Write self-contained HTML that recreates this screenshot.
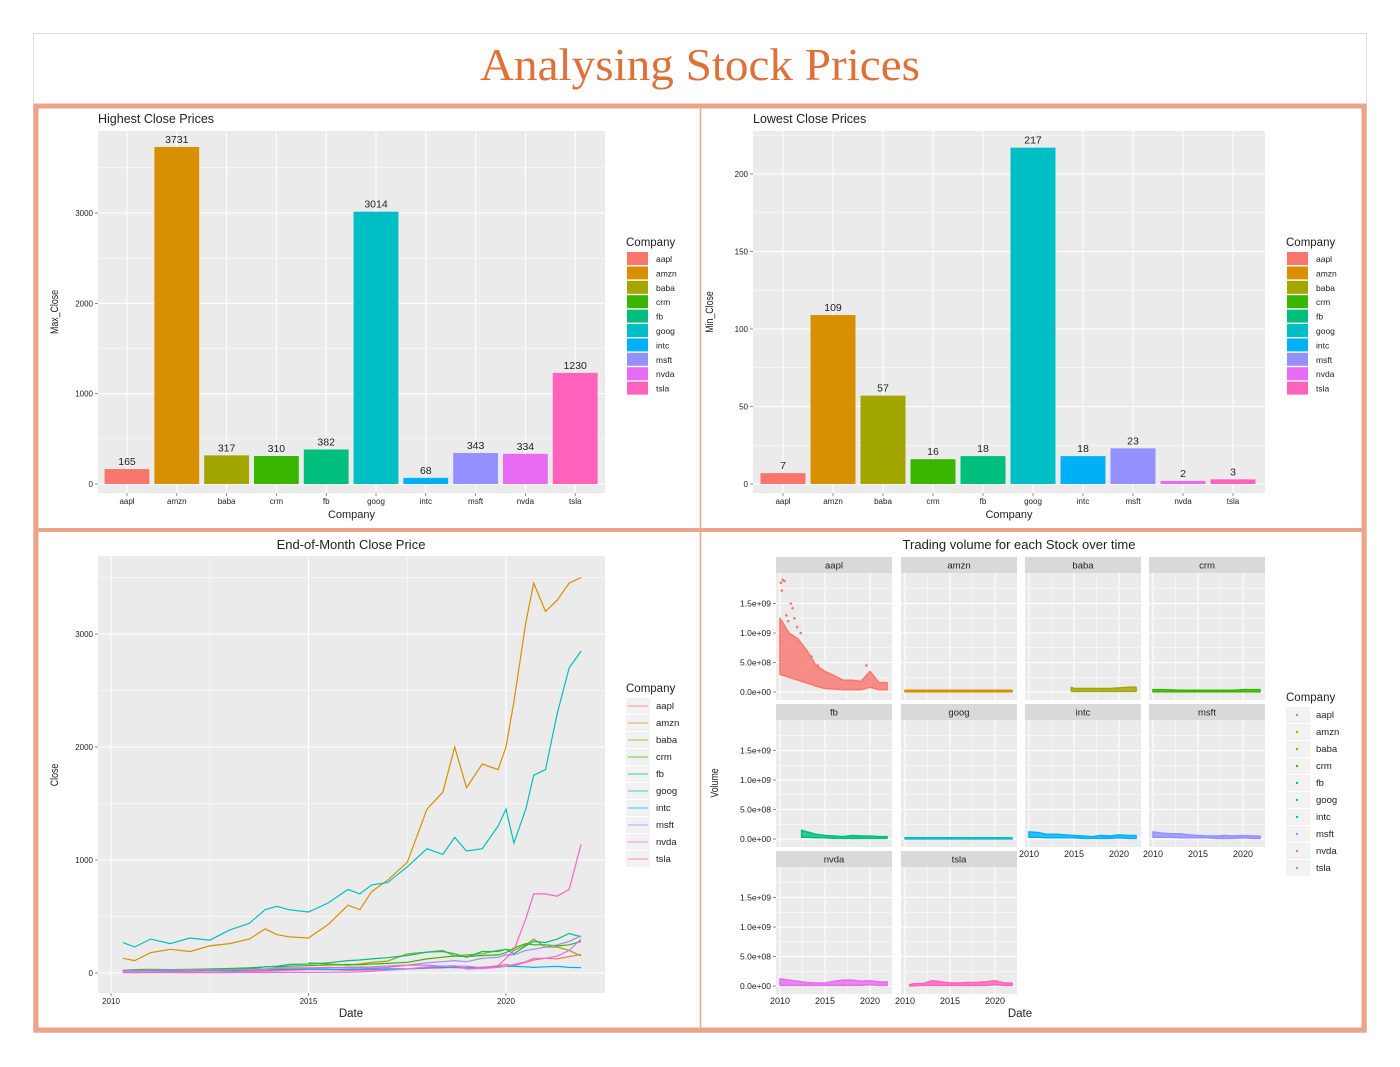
<!DOCTYPE html>
<html><head><meta charset="utf-8"><style>
html,body{margin:0;padding:0;background:#fff;width:1400px;height:1067px;overflow:hidden}
svg{display:block}
text{font-family:"Liberation Sans",sans-serif;fill:#222}
</style></head><body>
<svg id="s" width="1400" height="1067" viewBox="0 0 1400 1067">
<rect x="33.5" y="33.5" width="1333" height="999" fill="#fff" stroke="#ddd"/>
<text x="700" y="80" text-anchor="middle" textLength="440" lengthAdjust="spacingAndGlyphs" style="font-family:'Liberation Serif',serif;font-size:46px;fill:#E0703A">Analysing Stock Prices</text>
<rect x="36" y="106" width="1328" height="924" fill="none" stroke="#EBA58A" stroke-width="5"/>
<line x1="700.5" y1="108" x2="700.5" y2="1028" stroke="#EBA58A" stroke-width="1.5"/>
<line x1="38" y1="530" x2="1362" y2="530" stroke="#EBA58A" stroke-width="4"/>
<g id="g"></g>
</svg>
<script>
const companies=['aapl','amzn','baba','crm','fb','goog','intc','msft','nvda','tsla'];
const colors=['#F8766D','#D89000','#A3A500','#39B600','#00BF7D','#00BFC4','#00B0F6','#9590FF','#E76BF3','#FF62BC'];
const maxClose=[165,3731,317,310,382,3014,68,343,334,1230];
const minClose=[7,109,57,16,18,217,18,23,2,3];
const maxTicks=[0,1000,2000,3000];
const minTicks=[0,50,100,150,200];
const lineDates=[2010.3,2010.6,2011,2011.5,2012,2012.5,2013,2013.5,2013.9,2014.2,2014.5,2015,2015.5,2016,2016.3,2016.6,2017,2017.5,2018,2018.4,2018.7,2019,2019.4,2019.8,2020,2020.2,2020.5,2020.7,2021,2021.3,2021.6,2021.9];
const closeAapl=[9,9,11,12,15,20,16,14,18,20,24,30,31,24,25,27,30,36,42,45,55,39,50,65,77,63,95,115,130,125,145,165];
const closeAmzn=[130,110,180,210,190,240,260,300,390,340,320,310,430,600,560,720,820,980,1450,1600,2000,1640,1850,1800,2000,2400,3100,3450,3200,3300,3450,3500];
const closeBaba=[null,null,null,null,null,null,null,null,null,null,null,90,80,70,80,95,105,170,185,200,150,160,170,200,210,200,250,300,230,230,200,150];
const closeCrm=[25,30,32,30,33,35,40,45,55,55,60,65,72,75,73,80,85,95,125,140,150,145,155,160,180,220,260,250,250,240,250,280];
const closeFb=[null,null,null,null,null,22,28,35,55,60,75,80,90,110,115,125,135,155,185,190,170,140,190,190,210,170,240,280,270,300,350,320];
const closeGoog=[270,230,300,260,310,290,380,440,560,590,560,540,620,740,700,780,800,940,1100,1050,1200,1080,1100,1300,1450,1150,1450,1750,1800,2300,2700,2850];
const closeIntc=[20,20,22,22,26,25,22,24,25,30,33,35,31,32,32,35,36,36,46,50,48,47,50,55,60,58,55,50,55,58,50,48];
const closeMsft=[25,25,26,27,28,29,28,33,37,40,42,42,44,52,52,55,62,70,90,100,110,100,130,140,160,160,200,210,230,250,280,330];
const closeNvda=[4,3,5,4,3,3,3,4,4,5,5,5,6,8,10,15,25,35,55,60,65,35,40,50,60,75,100,130,130,150,200,300];
const closeTsla=[4,4,5,6,7,6,7,20,28,45,45,45,50,45,45,43,50,70,70,60,60,60,45,65,130,200,480,700,700,680,740,1140];
const closeSeries=[closeAapl,closeAmzn,closeBaba,closeCrm,closeFb,closeGoog,closeIntc,closeMsft,closeNvda,closeTsla];
const closeTicks=[0,1000,2000,3000];
const yearTicks=[2010,2015,2020];
const volYears=[2010,2011,2012,2013,2014,2015,2016,2017,2018,2019,2020,2021];
const volHigh=[
[1.25,1.0,0.9,0.7,0.45,0.35,0.28,0.2,0.2,0.18,0.35,0.16],
[0.03,0.03,0.03,0.03,0.03,0.03,0.03,0.03,0.03,0.03,0.03,0.03],
[null,null,null,null,0.08,0.06,0.06,0.06,0.06,0.06,0.07,0.08],
[0.04,0.04,0.035,0.03,0.03,0.03,0.03,0.03,0.03,0.03,0.04,0.04],
[null,null,0.15,0.12,0.08,0.06,0.05,0.04,0.06,0.05,0.05,0.04],
[0.02,0.02,0.02,0.02,0.02,0.02,0.02,0.02,0.02,0.02,0.02,0.02],
[0.12,0.11,0.08,0.08,0.07,0.06,0.05,0.04,0.06,0.05,0.07,0.06],
[0.12,0.1,0.09,0.09,0.07,0.06,0.05,0.05,0.06,0.05,0.06,0.05],
[0.12,0.1,0.08,0.06,0.05,0.05,0.08,0.1,0.1,0.08,0.09,0.07],
[0.02,0.04,0.04,0.09,0.07,0.05,0.05,0.06,0.06,0.07,0.09,0.05]];
const volLow=[
[0.3,0.25,0.2,0.15,0.1,0.06,0.05,0.04,0.04,0.04,0.08,0.04],
[0.005,0.005,0.005,0.005,0.005,0.005,0.005,0.005,0.005,0.005,0.005,0.005],
[null,null,null,null,0.01,0.01,0.01,0.01,0.01,0.01,0.01,0.01],
[0.005,0.005,0.005,0.005,0.005,0.005,0.005,0.005,0.005,0.005,0.005,0.005],
[null,null,0.03,0.03,0.02,0.02,0.01,0.01,0.01,0.01,0.01,0.01],
[0.002,0.002,0.002,0.002,0.002,0.002,0.002,0.002,0.002,0.002,0.002,0.002],
[0.03,0.03,0.02,0.02,0.02,0.02,0.01,0.01,0.01,0.01,0.02,0.01],
[0.03,0.03,0.03,0.02,0.02,0.02,0.02,0.01,0.01,0.01,0.02,0.01],
[0.01,0.01,0.01,0.01,0.01,0.01,0.01,0.01,0.01,0.01,0.02,0.01],
[0.002,0.005,0.01,0.01,0.01,0.01,0.01,0.01,0.01,0.01,0.02,0.01]];
const volStart=[2010,2010,2014.7,2010,2012.4,2010,2010,2010,2010,2010.5];
const aaplOutX=[2010.1,2010.3,2010.5,2010.2,2011.2,2011.4,2011.6,2010.7,2010.9,2012.3,2011.9,2013.5,2014.2,2019.6];
const aaplOutY=[1.85,1.9,1.88,1.72,1.5,1.42,1.25,1.3,1.2,1.0,1.1,0.6,0.45,0.45];
const volTicks=[0,0.5,1.0,1.5];
const volTickLabels=['0.0e+00','5.0e+08','1.0e+09','1.5e+09'];

const G=document.getElementById('g');
const NS='http://www.w3.org/2000/svg';
function el(tag,attrs,parent,txt){const e=document.createElementNS(NS,tag);for(const k in attrs)e.setAttribute(k,attrs[k]);if(txt!==undefined)e.textContent=txt;(parent||G).appendChild(e);return e;}

function barChart(opts){
  const {x0,x1,y0,y1,zeroY,scale,vals,ticks,title,ytitle,legX,xs,name}=opts;
  const g=el('g',{});
  
  
  const bg=el('rect',{x:x0,y:y0,width:x1-x0,height:y1-y0,fill:'#EBEBEB'},g);
  
  
  const Y=v=>zeroY-v*scale;
  for(let i=0;i<ticks.length;i++){
    const m=ticks[i]+(ticks[1]-ticks[0])/2;if(Y(m)>y0)el('line',{x1:x0,x2:x1,y1:Y(m),y2:Y(m),stroke:'#fff','stroke-width':0.5},g);
    el('line',{x1:x0,x2:x1,y1:Y(ticks[i]),y2:Y(ticks[i]),stroke:'#fff','stroke-width':1.1},g);
    const t=el('text',{x:x0-5,y:Y(ticks[i])+3,'text-anchor':'end','font-size':8,fill:'#444'},g,String(ticks[i]));
    
    
    el('line',{x1:x0-3,x2:x0,y1:Y(ticks[i]),y2:Y(ticks[i]),stroke:'#444','stroke-width':0.6},g);
  }
  const bw=(xs(1)-xs(0))*0.9;
  vals.forEach((v,i)=>{const cx=xs(i);el('line',{x1:cx,x2:cx,y1:y0,y2:y1,stroke:'#fff','stroke-width':1.1},g);});
  vals.forEach((v,i)=>{
    const cx=xs(i);
    const r=el('rect',{x:cx-bw/2,y:Y(v),width:bw,height:Math.max(zeroY-Y(v),1),fill:colors[i]},g);
    
    
    const l=el('text',{x:cx,y:Y(v)-4,'text-anchor':'middle','font-size':10.5,fill:'#111'},g,String(v));
    
    
    el('line',{x1:cx,x2:cx,y1:y1,y2:y1+3,stroke:'#444','stroke-width':0.6},g);
    const xl=el('text',{x:cx,y:y1+11,'text-anchor':'middle','font-size':8,fill:'#444'},g,companies[i]);
    
    
  });
  const tt=el('text',{x:x0,y:y0-8,'font-size':12.5},g,title);
  
  
  const xt=el('text',{x:(x0+x1)/2,y:y1+25,'text-anchor':'middle','font-size':11},g,'Company');
  
  
  const yt=el('text',{x:0,y:0,'text-anchor':'middle','font-size':11,transform:`translate(${x0-40},${(y0+y1)/2}) rotate(-90) scale(0.8,1)`},g,ytitle);
  
  
  legend(legX,242,'fill',g);
}
function legend(x,y,kind,parent){
  const g=el('g',{},parent);
  
  
  const t=el('text',{x:x,y:y+4,'font-size':11.5},g,'Company');
  
  
  const step=kind==='fill'?14.4:17;
  companies.forEach((c,i)=>{
    const yy=y+10+i*step;
    const e=el('g',{},g);
    
    
    if(kind==='fill'){el('rect',{x:x+1,y:yy,width:21,height:13,fill:colors[i]},e);el('text',{x:x+30,y:yy+10,'font-size':8.5},e,c);}
    else{el('rect',{x:x,y:yy,width:24,height:16,fill:'#F2F2F2'},e);
      if(kind==='line')el('line',{x1:x+2,x2:x+22,y1:yy+8,y2:yy+8,stroke:colors[i],'stroke-width':0.8},e);
      else el('circle',{cx:x+11,cy:yy+8,r:1.2,fill:colors[i]},e);
      el('text',{x:x+30,y:yy+11,'font-size':9.5},e,c);}
  });
}
barChart({x0:98,x1:605,y0:131,y1:493,zeroY:484,scale:271/3000,vals:maxClose,ticks:maxTicks,title:'Highest Close Prices',ytitle:'Max_Close',legX:626,xs:i=>127+i*49.8,name:'highest-close-chart'});
barChart({x0:753,x1:1265,y0:131,y1:493,zeroY:484,scale:310/200,vals:minClose,ticks:minTicks,title:'Lowest Close Prices',ytitle:'Min_Close',legX:1286,xs:i=>783+i*50,name:'lowest-close-chart'});

(function(){
  const x0=98,x1=605,y0=556,y1=993;
  const g=el('g',{});
  
  
  const X=v=>111+(v-2010)*39.5, Y=v=>973-v*0.113;
  const bg=el('rect',{x:x0,y:y0,width:x1-x0,height:y1-y0,fill:'#EBEBEB'},g);
  
  
  [500,1500,2500,3500].forEach(v=>el('line',{x1:x0,x2:x1,y1:Y(v),y2:Y(v),stroke:'#fff','stroke-width':0.5},g));
  [2012.5,2017.5].forEach(v=>el('line',{x1:X(v),x2:X(v),y1:y0,y2:y1,stroke:'#fff','stroke-width':0.5},g));
  closeTicks.forEach(v=>{el('line',{x1:x0,x2:x1,y1:Y(v),y2:Y(v),stroke:'#fff','stroke-width':1.1},g);
    el('line',{x1:x0-3,x2:x0,y1:Y(v),y2:Y(v),stroke:'#444','stroke-width':0.6},g);
    const t=el('text',{x:x0-5,y:Y(v)+3,'text-anchor':'end','font-size':8,fill:'#444'},g,String(v));
    
    });
  yearTicks.forEach(v=>{el('line',{x1:X(v),x2:X(v),y1:y0,y2:y1,stroke:'#fff','stroke-width':1.1},g);
    el('line',{x1:X(v),x2:X(v),y1:y1,y2:y1+3,stroke:'#444','stroke-width':0.6},g);
    const t=el('text',{x:X(v),y:y1+11,'text-anchor':'middle','font-size':8,fill:'#444'},g,String(v));
    
    });
  closeSeries.forEach((s,i)=>{
    let d='';let pen=false;
    s.forEach((v,j)=>{if(v===null){pen=false;return;}d+=(pen?'L':'M')+X(lineDates[j]).toFixed(1)+','+Y(v).toFixed(1);pen=true;});
    const p=el('path',{d:d,fill:'none',stroke:colors[i],'stroke-width':1.2},g);
    
    
  });
  const tt=el('text',{x:351,y:549,'text-anchor':'middle','font-size':13},g,'End-of-Month Close Price');
  
  
  const xt=el('text',{x:351,y:1017,'text-anchor':'middle','font-size':11.5},g,'Date');
  
  
  const yt=el('text',{x:0,y:0,'text-anchor':'middle','font-size':11,transform:'translate(58,775) rotate(-90) scale(0.8,1)'},g,'Close');
  
  
  legend(626,688,'line',g);
})();

(function(){
  const g=el('g',{});
  
  
  const cols=[776,901,1025,1149], pw=116;
  const rows=[[557,692],[704,839],[851,986]];
  companies.forEach((c,i)=>{
    const cx=cols[i%4], r=rows[Math.floor(i/4)];
    const st=r[0], zero=r[1];
    const X=v=>cx+4+(v-2010)*9, Y=v=>zero-v*59;
    const pg=el('g',{},g);
    
    
    el('rect',{x:cx,y:st,width:pw,height:16,fill:'#D9D9D9'},pg);
    el('text',{x:cx+pw/2,y:st+11.5,'text-anchor':'middle','font-size':9.5,fill:'#222'},pg,c);
    el('rect',{x:cx,y:st+16,width:pw,height:zero+8-st-16,fill:'#EBEBEB'},pg);
    [0.25,0.75,1.25,1.75].forEach(v=>el('line',{x1:cx,x2:cx+pw,y1:Y(v),y2:Y(v),stroke:'#fff','stroke-width':0.5},pg));
    [2012.5,2017.5].forEach(v=>el('line',{x1:X(v),x2:X(v),y1:st+16,y2:zero+8,stroke:'#fff','stroke-width':0.5},pg));
    volTicks.forEach(v=>el('line',{x1:cx,x2:cx+pw,y1:Y(v),y2:Y(v),stroke:'#fff','stroke-width':1},pg));
    yearTicks.forEach(v=>el('line',{x1:X(v),x2:X(v),y1:st+16,y2:zero+8,stroke:'#fff','stroke-width':1},pg));
    if(i%4===0) volTicks.forEach((v,k)=>{el('text',{x:cx-5,y:Y(v)+3,'text-anchor':'end','font-size':8.5,fill:'#444'},pg,volTickLabels[k]);el('line',{x1:cx-3,x2:cx,y1:Y(v),y2:Y(v),stroke:'#444','stroke-width':0.6},pg);});
    if(i>=6) yearTicks.forEach(v=>{el('text',{x:X(v),y:zero+18,'text-anchor':'middle','font-size':9,fill:'#444'},pg,String(v));});
    const hi=volHigh[i], lo=volLow[i];
    let top=[],bot=[];
    volYears.forEach((yv,j)=>{if(hi[j]===null)return;const xx=Math.max(yv,volStart[i]);top.push([X(xx),Y(hi[j])]);bot.push([X(xx),Y(lo[j])]);});
    top.push([X(2021.9),Y(hi[hi.length-1])]);bot.push([X(2021.9),Y(lo[lo.length-1])]);
    const pts=top.concat(bot.reverse()).map(p=>p[0].toFixed(1)+','+p[1].toFixed(1)).join(' ');
    const b=el('polygon',{points:pts,fill:colors[i],'fill-opacity':0.8,stroke:colors[i],'stroke-width':1.5,'stroke-linejoin':'round'},pg);
    
    
    if(i===0) aaplOutX.forEach((xv,k)=>{
      const d=el('circle',{cx:X(xv),cy:Y(aaplOutY[k]),r:1.3,fill:colors[0]},pg);
      
      
    });
  });
  const tt=el('text',{x:1019,y:549,'text-anchor':'middle','font-size':13},g,'Trading volume for each Stock over time');
  
  
  const xt=el('text',{x:1020,y:1017,'text-anchor':'middle','font-size':11.5},g,'Date');
  
  
  const yt=el('text',{x:0,y:0,'text-anchor':'middle','font-size':11,transform:'translate(718,783) rotate(-90) scale(0.8,1)'},g,'Volume');
  
  
  legend(1286,697,'dot',g);
})();
</script>
</body></html>
